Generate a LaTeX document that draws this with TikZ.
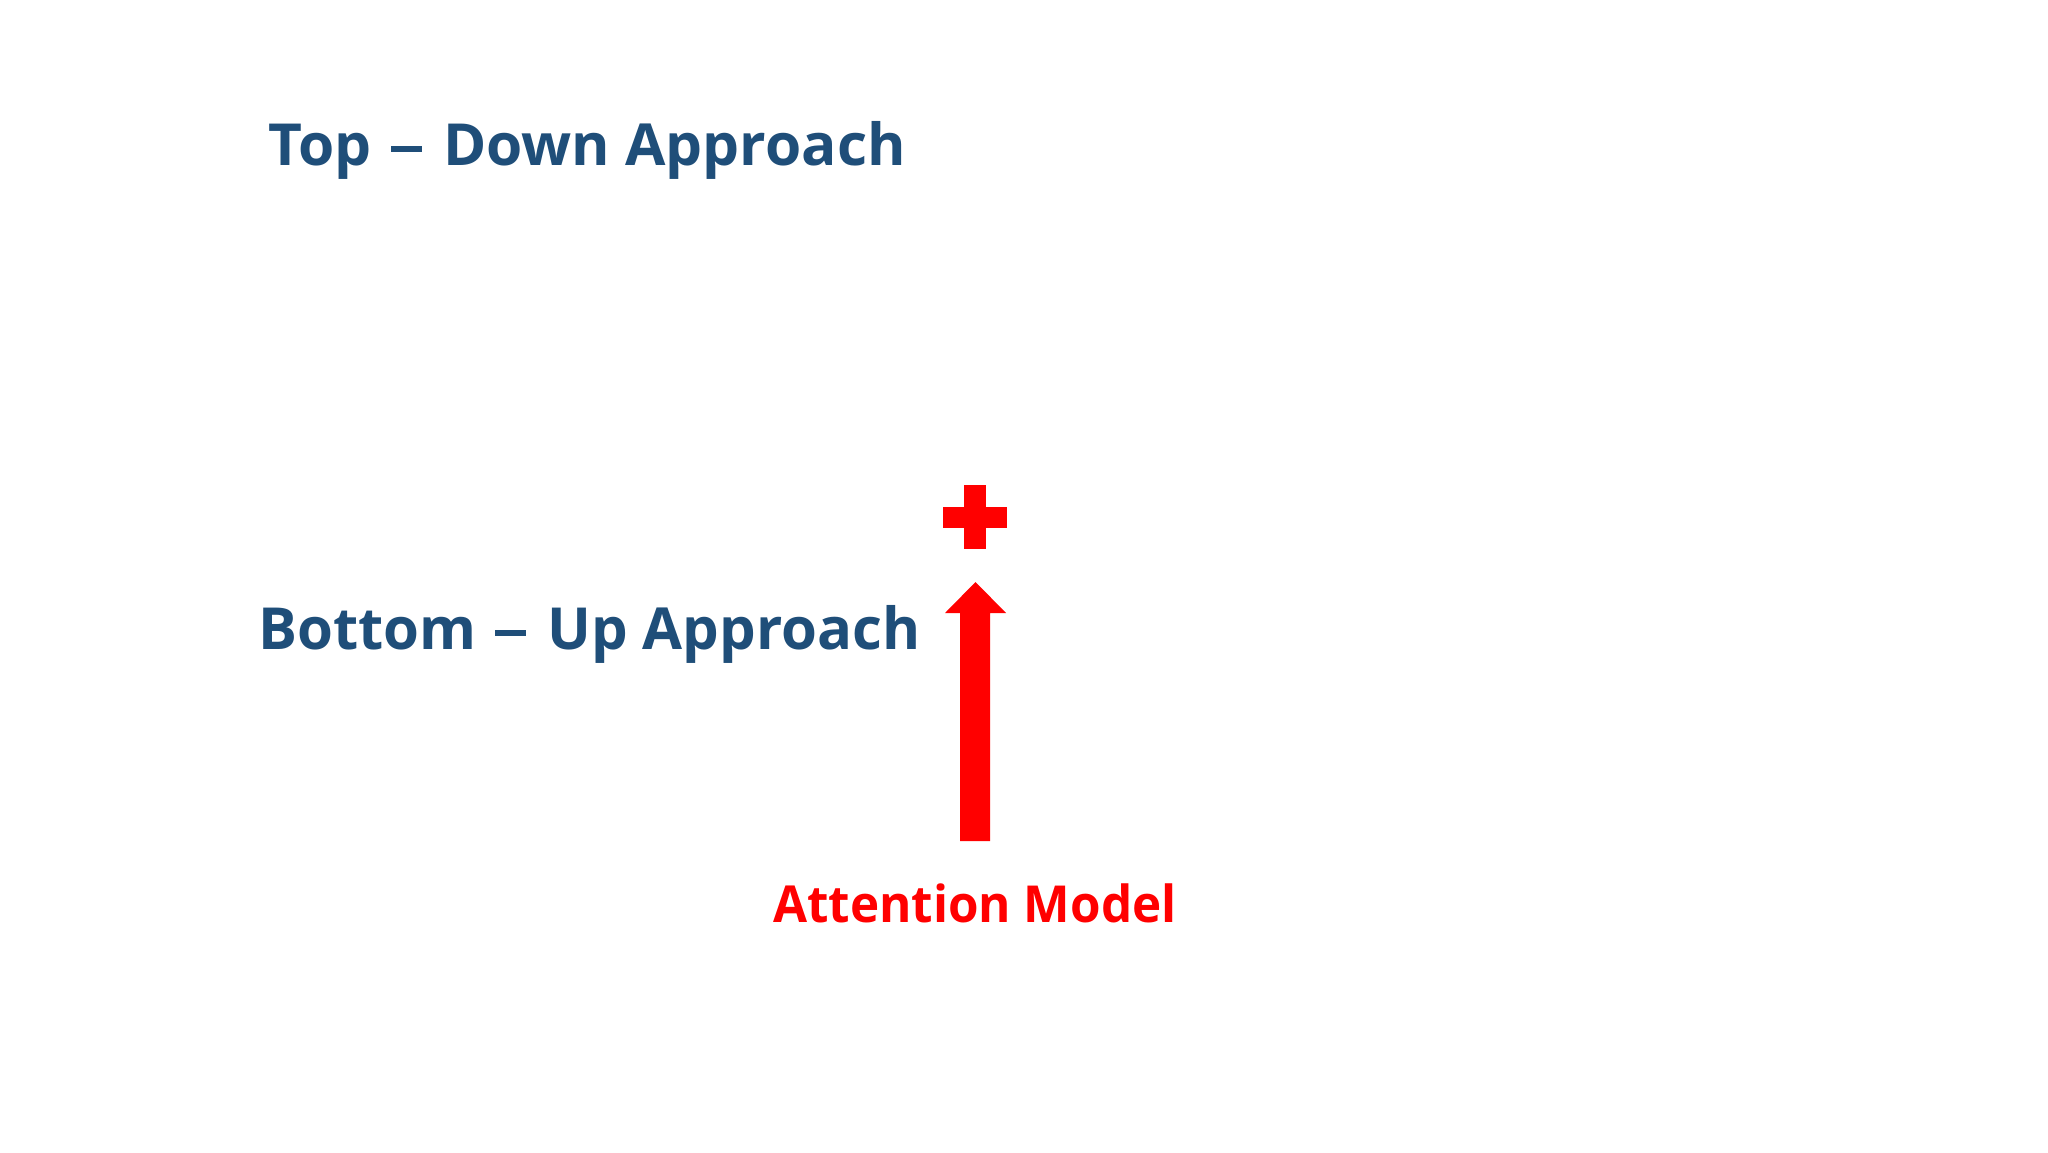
\documentclass[tikz,border=0pt]{standalone}
\usepackage{fontspec}
\setmainfont{Open Sans}
\definecolor{titleblue}{RGB}{31,78,121}
\definecolor{attred}{RGB}{255,0,0}
\newcommand{\widedash}{\hspace{19pt}\rule[13pt]{31pt}{6.5pt}\hspace{21pt}}
\tikzset{
  heading/.style={inner sep=0pt, anchor=base west, text=titleblue, font=\bfseries\fontsize{58}{68}\selectfont},
  redlabel/.style={inner sep=0pt, anchor=base west, text=attred, font=\bfseries\fontsize{51}{60}\selectfont},
  redshape/.style={fill=attred, draw=none}
}
\begin{document}
\begin{tikzpicture}[x=1pt,y=-1pt]
\useasboundingbox[fill=white] (0,0) rectangle (2048,1152);
\node[heading] (top) at (268,165) {\scalebox{1.01}[1]{Top\widedash{}Down Approach}};
\node[heading] (bottom) at (258,649) {Bottom\widedash{}Up Approach};
\node[redlabel] (att) at (773,922) {\scalebox{0.968}[1]{Attention Model}};
% plus sign
\coordinate (plus) at (975,517);
\fill[redshape] (964,485) rectangle (986,549);
\fill[redshape] (943,507) rectangle (1007,528);
% up arrow
\coordinate (arrowtip) at (975.5,582);
\coordinate (arrowfoot) at (975,841);
\fill[redshape] (960,841) -- (960,613) -- (945,613) -- (arrowtip) -- (1006,613) -- (990,613) -- (990,841) -- cycle;
\end{tikzpicture}
\end{document}
